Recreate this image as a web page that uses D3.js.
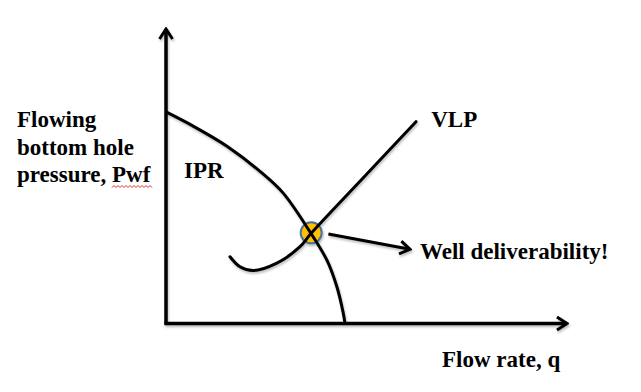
<!DOCTYPE html>
<html>
<head>
<meta charset="utf-8">
<script src="https://cdn.jsdelivr.net/npm/d3@7"></script>
<style>
  body { margin: 0; background: #fff; }
  text { font-family: "Liberation Serif", "DejaVu Serif", "Times New Roman", serif; font-weight: bold; font-size: 23px; fill: #000; }
</style>
</head>
<body>
<svg id="chart" width="641" height="392"></svg>
<script>
// curve points, q and Pwf in arbitrary units (0..100)
const iprQ   = [0, 6.8, 15.25, 23.5, 29.25, 36.0, 40.2, 42.7, 44.3, 44.75];
const iprPwf = [71.6, 66.8, 60.0, 51.5, 44.2, 31.0, 21.5, 12.5, 3.6, 0];

const vlpQ   = [16.0, 18.5, 21.8, 27.7, 33.5, 36.4, 49.5, 62.5];
const vlpPwf = [22.6, 19.2, 17.9, 20.4, 26.0, 30.7, 49.6, 68.3];

// operating point and the pointer to its label
const opPoint = [36.3, 30.7];
const pointerFrom = [40.6, 30.3];
const pointerTo = [61.0, 25.1];

const labels = [
  { text: "IPR", q: 4.5, p: 49.4 },
  { text: "VLP", q: 66.3, p: 66.5 },
  { text: "Well deliverability!", q: 63.5, p: 21.8 },
  { text: "Flow rate, q", q: 69.0, p: -14.6 }
];
const yTitle = ["Flowing", "bottom hole", "pressure, "];

const svg = d3.select("#chart");

const x = d3.scaleLinear().domain([0, 100]).range([166, 566]);
const y = d3.scaleLinear().domain([0, 100]).range([323.5, 28]);

const defs = svg.append("defs");
defs.append("filter").attr("id", "shadow")
  .attr("x", "-10%").attr("y", "-10%").attr("width", "120%").attr("height", "130%")
  .append("feDropShadow")
  .attr("dx", 1).attr("dy", 2).attr("stdDeviation", 1)
  .attr("flood-color", "#000").attr("flood-opacity", 0.25);

defs.append("marker").attr("id", "chev")
  .attr("viewBox", "-12 -8 14 16")
  .attr("markerUnits", "userSpaceOnUse")
  .attr("markerWidth", 14).attr("markerHeight", 16)
  .attr("refX", 0).attr("refY", 0)
  .attr("orient", "auto")
  .append("path")
  .attr("d", "M-10,-6.5L0,0L-10,6.5")
  .attr("fill", "none").attr("stroke", "#000")
  .attr("stroke-width", 3).attr("stroke-linejoin", "miter");

const g = svg.append("g").attr("filter", "url(#shadow)");

// axes
g.append("line")
  .attr("x1", x(0)).attr("y1", y(0)).attr("x2", x(0)).attr("y2", y(100) + 1)
  .attr("stroke", "#000").attr("stroke-width", 3.5)
  .attr("marker-end", "url(#chev)");
g.append("line")
  .attr("x1", x(0) - 1.75).attr("y1", y(0)).attr("x2", x(100) + 1).attr("y2", y(0))
  .attr("stroke", "#000").attr("stroke-width", 3.5)
  .attr("marker-end", "url(#chev)");

const line = d3.line()
  .x(d => x(d[0]))
  .y(d => y(d[1]))
  .curve(d3.curveCatmullRom.alpha(0.5));

g.append("path")
  .datum(d3.zip(iprQ, iprPwf))
  .attr("d", line)
  .attr("fill", "none").attr("stroke", "#000").attr("stroke-width", 3);

g.append("path")
  .datum(d3.zip(vlpQ, vlpPwf))
  .attr("d", line)
  .attr("fill", "none").attr("stroke", "#000").attr("stroke-width", 3)
  .attr("stroke-linecap", "round");

// operating point marker sits under the curves crossing
g.insert("circle", "path")
  .attr("cx", x(opPoint[0])).attr("cy", y(opPoint[1])).attr("r", 10.5)
  .attr("fill", "#FFC000").attr("stroke", "#4A6F98").attr("stroke-width", 2);

g.append("line")
  .attr("x1", x(pointerFrom[0])).attr("y1", y(pointerFrom[1]))
  .attr("x2", x(pointerTo[0])).attr("y2", y(pointerTo[1]))
  .attr("stroke", "#000").attr("stroke-width", 3)
  .attr("marker-end", "url(#chev)");

// text
svg.selectAll("text.lbl")
  .data(labels)
  .join("text")
  .attr("class", "lbl")
  .attr("x", d => x(d.q))
  .attr("y", d => y(d.p))
  .text(d => d.text);

const title = svg.append("text").attr("x", 17).attr("y", 127);
title.selectAll("tspan")
  .data(yTitle)
  .join("tspan")
  .attr("x", 17)
  .attr("dy", (d, i) => i === 0 ? 0 : 27.5)
  .text(d => d);
const pwf = title.append("tspan").text("Pwf");

// spell-check squiggle under "Pwf"
const last = title.selectAll("tspan").nodes()[2];
const sx = 17 + last.getComputedTextLength();
const sw = pwf.node().getComputedTextLength();
const sy = 127 + 2 * 27.5 + 4.5;
const zig = d3.range(0, Math.ceil(sw / 2) + 1).map(i => [sx + i * 2, sy + (i % 2 ? -1 : 1)]);
svg.append("path")
  .attr("d", d3.line()(zig))
  .attr("fill", "none").attr("stroke", "#e03030").attr("stroke-width", 1);
</script>
</body>
</html>
